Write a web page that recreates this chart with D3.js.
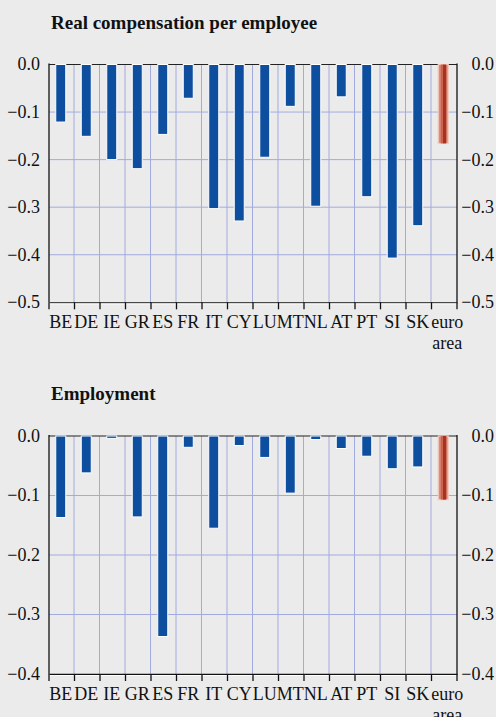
<!DOCTYPE html>
<html>
<head>
<meta charset="utf-8">
<script src="https://cdn.jsdelivr.net/npm/d3@7"></script>
<style>
  html, body { margin: 0; padding: 0; background: #ebebeb; }
  svg { display: block; }
</style>
</head>
<body>
<svg id="chart" width="496" height="717"></svg>
<script>
const categories = ["BE","DE","IE","GR","ES","FR","IT","CY","LU","MT","NL","AT","PT","SI","SK","euro area"];
const compensation = [-0.121,-0.151,-0.200,-0.219,-0.147,-0.071,-0.303,-0.329,-0.195,-0.088,-0.298,-0.068,-0.278,-0.407,-0.339,-0.166];
const employment = [-0.137,-0.062,-0.004,-0.136,-0.337,-0.019,-0.155,-0.016,-0.036,-0.096,-0.006,-0.021,-0.034,-0.055,-0.052,-0.107];
const compTicks = [0, -0.1, -0.2, -0.3, -0.4, -0.5];
const empTicks = [0, -0.1, -0.2, -0.3, -0.4];
const titles = ["Real compensation per employee", "Employment"];

const FONT = "'Liberation Serif', 'Times New Roman', Times, serif";
const svg = d3.select("#chart").attr("font-family", FONT);
const left = 49, right = 457;
const blue = "#0d4e9f", grid = "#a2abdf";

function drawPanel(title, values, ticks, titleY, y0, y1) {
  const g = svg.append("g");
  const x = d3.scaleBand().domain(categories).range([left, right]).padding(0);
  const y = d3.scaleLinear().domain([d3.min(ticks), 0]).range([y1, y0]);

  g.append("text").attr("x", 51).attr("y", titleY).attr("font-family", FONT)
    .attr("font-size", 19).attr("font-weight", "bold").attr("fill", "#111").text(title);

  g.selectAll(".hg").data(ticks.filter(t => t !== 0 && t !== d3.min(ticks))).enter()
    .append("line").attr("x1", left).attr("x2", right)
    .attr("y1", d => y(d)).attr("y2", d => y(d))
    .attr("stroke", grid).attr("stroke-width", 1);
  g.selectAll(".vg").data(categories.slice(1)).enter()
    .append("line").attr("x1", d => x(d) - 0.5).attr("x2", d => x(d) - 0.5)
    .attr("y1", y(0)).attr("y2", y1)
    .attr("stroke", grid).attr("stroke-width", 1);

  g.append("line").attr("x1", left).attr("x2", right).attr("y1", y(0)).attr("y2", y(0))
    .attr("stroke", "#222").attr("stroke-width", 1.2);

  const bw = 10;
  categories.forEach((c, i) => {
    const cx = x(c) + x.bandwidth() / 2 - 1;
    const v = values[i];
    const top = y(0), h = y(v) - y(0);
    if (c === "euro area") {
      g.append("rect").attr("x", cx - bw/2).attr("y", top).attr("width", bw).attr("height", h)
        .attr("fill", "#dc8b7a").attr("stroke", "#f3cabd").attr("stroke-width", 1.2);
      g.append("rect").attr("x", cx - 0.5).attr("y", top).attr("width", 3.5).attr("height", h)
        .attr("fill", "#a9311f");
      g.append("rect").attr("x", cx - 2.5).attr("y", top).attr("width", 2).attr("height", h)
        .attr("fill", "#c8604c");
    } else {
      g.append("rect").attr("x", cx - bw/2).attr("y", top).attr("width", bw).attr("height", h)
        .attr("fill", blue).attr("stroke", "#ffffff").attr("stroke-width", 1);
    }
  });

  g.append("line").attr("x1", left).attr("x2", left).attr("y1", y(0) - 1).attr("y2", y1)
    .attr("stroke", "#111").attr("stroke-width", 1.3);
  g.append("line").attr("x1", right).attr("x2", right).attr("y1", y(0) - 1).attr("y2", y1)
    .attr("stroke", "#111").attr("stroke-width", 1.3);

  const bottomAxis = d3.axisBottom(x).tickSize(0).tickFormat("");
  const ax = g.append("g").attr("transform", `translate(0,${y1})`).call(bottomAxis);
  ax.select(".domain").attr("stroke", "#111").attr("stroke-width", 1.3);
  g.append("line").attr("x1", left).attr("x2", right).attr("y1", y1 + 1.5).attr("y2", y1 + 1.5)
    .attr("stroke", "#fff").attr("stroke-width", 1);
  const bounds = categories.map(c => x(c)).concat([right]);
  g.selectAll(".xt").data(bounds).enter().append("line")
    .attr("x1", d => d).attr("x2", d => d).attr("y1", y1).attr("y2", y1 + 7)
    .attr("stroke", "#111").attr("stroke-width", 1.3);

  categories.forEach(c => {
    const cx = x(c) + x.bandwidth() / 2 - 1;
    const words = c.split(" ");
    const t = g.append("text").attr("x", cx).attr("y", y1 + 26).attr("font-family", FONT)
      .attr("text-anchor", "middle").attr("font-size", 18).attr("fill", "#111");
    words.forEach((w, k) => {
      t.append("tspan").attr("x", cx + (words.length > 1 ? 4 : 0))
        .attr("dy", k === 0 ? 0 : 21).text(w);
    });
  });

  const fmt = d3.format(".1f");
  ticks.forEach(t => {
    g.append("text").attr("x", 40).attr("y", y(t)).attr("dy", "0.33em").attr("font-family", FONT)
      .attr("text-anchor", "end").attr("font-size", 18).attr("fill", "#111").text(fmt(t));
    g.append("text").attr("x", 494).attr("y", y(t)).attr("dy", "0.33em").attr("font-family", FONT)
      .attr("text-anchor", "end").attr("font-size", 18).attr("fill", "#111").text(fmt(t));
  });
}

drawPanel(titles[0], compensation, compTicks, 29, 64.5, 302.3);
drawPanel(titles[1], employment, empTicks, 400, 436, 674);
</script>
</body>
</html>
